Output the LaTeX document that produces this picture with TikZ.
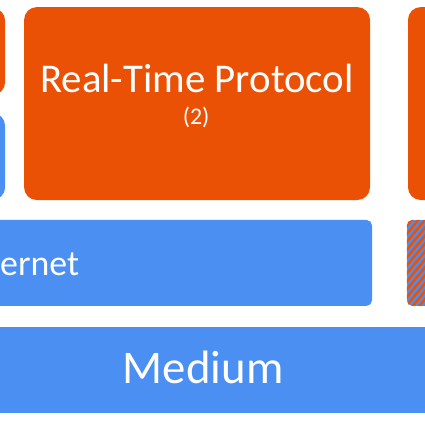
\documentclass[tikz,border=0pt]{standalone}
\usepackage{fontspec}
\setmainfont{Carlito}
\usepackage{xcolor}
\usetikzlibrary{calc}

\begin{document}
\begin{tikzpicture}[
  line cap=round,
  line join=round,
  block/.style={rounded corners=4.5mm},
  bar/.style={rounded corners=2mm},
  label/.style={text=white, inner sep=0pt, anchor=base}
]
\definecolor{stackorange}{HTML}{EB5105}
\definecolor{stackblue}{HTML}{4C8FF2}

\useasboundingbox (0,0) rectangle (15,15);
\clip (0,0) rectangle (15,15);

% Top row: application blocks.
\path[block, fill=stackorange] (-3,11.65) rectangle (0.18,14.72);
\path[block, fill=stackblue] (-3,7.94) rectangle (0.18,11.01);
\path[block, fill=stackorange] (0.85,7.94) rectangle (13.06,14.75);
\path[block, fill=stackorange] (14.40,7.94) rectangle (18,14.75);
\node[label, font=\fontsize{41}{44}\selectfont] (rtp) at (6.95,11.75)
  {Real-Time Protocol};
\node[label, font=\fontsize{24}{26}\selectfont] (rtpnum) at (6.92,10.62) {(2)};

% Middle row: link layer and shared slot.
\path[bar, fill=stackblue] (-3,4.20) rectangle (13.13,7.24);
\node[label, anchor=base west, font=\fontsize{36}{40}\selectfont] (eth)
  at (0,5.29) {ernet};
\begin{scope}
  \path[bar, clip] (14.36,4.20) rectangle (18,7.24);
  \fill[stackblue] (14.36,4.20) rectangle (18,7.24);
  \foreach \y in {2.4,2.68,...,8.4}{
    \draw[stackorange, line width=2.6pt, line cap=butt]
      (14.0,\y) -- (16.0,{\y+2.4});
  }
\end{scope}

% Bottom row: physical medium.
\path[fill=stackblue] (-3,0.42) rectangle (18,3.46);
\node[label, font=\fontsize{47}{52}\selectfont] (medium) at (7.17,1.48) {Medium};
\end{tikzpicture}
\end{document}
